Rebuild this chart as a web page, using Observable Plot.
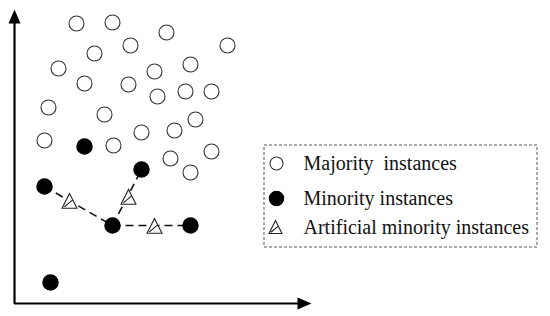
<!DOCTYPE html>
<html><head><meta charset="utf-8">
<script src="https://cdn.jsdelivr.net/npm/d3@7"></script>
<script src="https://cdn.jsdelivr.net/npm/@observablehq/plot@0.6"></script>
<style>body{margin:0;background:#fff} svg{display:block} text{white-space:pre}</style>
</head><body><div id="chart"></div>
<script>
// Feature-space coordinates (origin at the axes corner)
const majority = [[62,280],[98,281],[152,271],[116,258],[213,258],[80,250],[44,235],[176,239],[140,232],
  [70,220],[114,219],[143,207],[171,212],[197,212],[34,196],[90,189],[181,184],[127,171],[160,173],
  [30,163],[99,158],[156,145],[197,152],[176,131]];
const minority = [[70,157],[127,134],[30,117],[98,78],[176,78],[36,21]];
const artificial = [[55,102],[114,106],[140,77]];
const neighbourLinks = [[2,3],[3,1],[3,4]]; // indices into minority
const axisPath = [[0,284],[0,0],[288,0]];
const legendLabels = ["Majority\u00a0 instances","Minority instances","Artificial minority instances"];

const hatchedTriangle = {draw(ctx, size){
  const r = Math.sqrt(size/Math.PI);
  ctx.moveTo(0,-r); ctx.lineTo(0.93*r,0.85*r); ctx.lineTo(-0.93*r,0.85*r); ctx.closePath();
  ctx.moveTo(-0.65*r,0.68*r); ctx.lineTo(0.4*r,-0.2*r);
}};
const upArrow = {draw(ctx){ctx.moveTo(0,-7); ctx.lineTo(6,7); ctx.lineTo(-6,7); ctx.closePath();}};
const rightArrow = {draw(ctx){ctx.moveTo(7,0); ctx.lineTo(-7,6); ctx.lineTo(-7,-6); ctx.closePath();}};

const links = neighbourLinks.map(([a,b]) => ({x1:minority[a][0], y1:minority[a][1], x2:minority[b][0], y2:minority[b][1]}));
const legendRows = legendLabels.map((label,i) => ({label, y:[140,105,76][i]}));
const serif = "'Liberation Serif','Times New Roman',serif";

const chart = Plot.plot({
  width: 550, height: 316,
  margin: 0,
  x: {domain:[-14,536], range:[0,550], axis:null},
  y: {domain:[-13,303], range:[316,0], axis:null},
  style: {background:"#fff", fontFamily: serif},
  marks: [
    Plot.line(axisPath, {x:d=>d[0], y:d=>d[1], stroke:"#000", strokeWidth:2.2, strokeLinejoin:"miter"}),
    Plot.dot([[0,287]], {x:d=>d[0], y:d=>d[1], symbol:upArrow, fill:"#000", stroke:"none"}),
    Plot.dot([[290,0]], {x:d=>d[0], y:d=>d[1], symbol:rightArrow, fill:"#000", stroke:"none"}),
    Plot.link(links, {x1:"x1", y1:"y1", x2:"x2", y2:"y2", stroke:"#111", strokeWidth:1.6, strokeDasharray:"8,5"}),
    Plot.dot(artificial, {x:d=>d[0], y:d=>d[1], r:8, symbol:hatchedTriangle, fill:"#fff", stroke:"#222", strokeWidth:1.1}),
    Plot.dot(majority, {x:d=>d[0], y:d=>d[1], r:7.5, fill:"#fff", stroke:"#333", strokeWidth:1.1}),
    Plot.dot(minority, {x:d=>d[0], y:d=>d[1], r:7.5, fill:"#000", stroke:"#000"}),
    // legend
    Plot.rect([0], {x1:250, x2:523, y1:56, y2:158, fill:"none", stroke:"#555", strokeWidth:1, strokeDasharray:"3,2"}),
    Plot.dot([legendRows[0]], {x:262, y:"y", r:6.5, fill:"#fff", stroke:"#333", strokeWidth:1.1}),
    Plot.dot([legendRows[1]], {x:262, y:"y", r:7, fill:"#000", stroke:"#000"}),
    Plot.dot([legendRows[2]], {x:261, y:"y", r:7, symbol:hatchedTriangle, fill:"#fff", stroke:"#222", strokeWidth:1.1}),
    Plot.text(legendRows, {x:289, y:"y", text:"label", textAnchor:"start", fontSize:20, fill:"#111", fontFamily:serif})
  ]
});
document.getElementById("chart").append(chart);
</script>
</body></html>
